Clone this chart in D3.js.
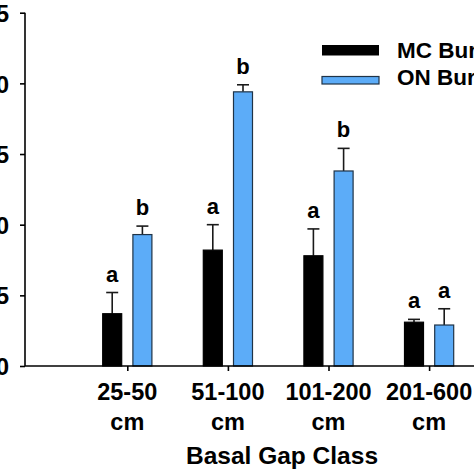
<!DOCTYPE html>
<html>
<head>
<meta charset="utf-8">
<script src="https://cdn.jsdelivr.net/npm/d3@7"></script>
<style>
  body { margin: 0; background: #fff; }
  svg { display: block; font-family: "Liberation Sans", Arial, sans-serif; font-weight: bold; }
</style>
</head>
<body>
<svg id="chart" width="474" height="474"></svg>
<script>
const classes = ["25-50", "51-100", "101-200", "201-600"];
const seriesNames = ["MC Burned", "ON Burned"];
const mcMean = [0.37, 0.82, 0.78, 0.31];
const mcErr = [0.15, 0.18, 0.19, 0.02];
const onMean = [0.93, 1.94, 1.38, 0.29];
const onErr = [0.06, 0.05, 0.16, 0.115];
const mcLetters = ["a", "a", "a", "a"];
const onLetters = ["b", "b", "b", "a"];
const yTicks = [0, 0.5, 1.0, 1.5, 2.0, 2.5];

const colors = ["#000000", "#5cacf8"];
const svg = d3.select("#chart");

const marginLeft = 25, marginTop = 12.7, bottom = 366;

const y = d3.scaleLinear().domain([0, 2.5]).range([bottom, marginTop]);
// categories sit at 1..4, origin at the y axis
const x = d3.scaleLinear().domain([0, 4.5]).range([26.7, 26.7 + 4.5 * 100.6]);

const barW = 19, gap = 5.6;

const data = classes.flatMap((c, i) => [
  { c, i, s: 0, v: mcMean[i], e: mcErr[i], l: mcLetters[i] },
  { c, i, s: 1, v: onMean[i], e: onErr[i], l: onLetters[i] }
]);
const bx = d => d.s === 0 ? x(d.i + 1) - gap - barW : x(d.i + 1) + gap;

// error bars
const eb = svg.append("g").attr("stroke", "#1a1a1a").attr("stroke-width", 1.6);
eb.selectAll("line.v").data(data).join("line")
  .attr("x1", d => bx(d) + barW / 2).attr("x2", d => bx(d) + barW / 2)
  .attr("y1", d => y(d.v)).attr("y2", d => y(d.v + d.e));
eb.selectAll("line.c").data(data).join("line")
  .attr("x1", d => bx(d) + barW / 2 - 6).attr("x2", d => bx(d) + barW / 2 + 6)
  .attr("y1", d => y(d.v + d.e)).attr("y2", d => y(d.v + d.e));

svg.append("g").selectAll("rect").data(data).join("rect")
  .attr("x", bx).attr("width", barW)
  .attr("y", d => y(d.v)).attr("height", d => y(0) - y(d.v))
  .attr("fill", d => colors[d.s])
  .attr("stroke", d => d.s === 0 ? "#000" : "#1f3347")
  .attr("stroke-width", 1.2);

svg.append("g").selectAll("text").data(data).join("text")
  .attr("x", d => bx(d) + barW / 2)
  .attr("y", d => y(d.v + d.e) - 11)
  .attr("text-anchor", "middle")
  .attr("font-size", 22)
  .text(d => d.l);

// y axis
const yAxis = svg.append("g").attr("transform", `translate(${marginLeft},0)`)
  .call(d3.axisLeft(y).tickValues(yTicks).tickFormat(d3.format(".1f")).tickSize(5).tickPadding(11));
yAxis.select(".domain").attr("stroke-width", 1.6).attr("d", `M0,${marginTop}V${bottom}`);
yAxis.selectAll(".tick line").attr("stroke-width", 1.6);
yAxis.selectAll(".tick text").attr("font-size", 24).attr("font-family", null).attr("font-weight", "bold").attr("dy", "0.36em");

// x axis
const xAxis = svg.append("g").attr("transform", `translate(0,${bottom})`)
  .call(d3.axisBottom(x).tickValues([1, 2, 3, 4]).tickFormat("").tickSize(5).tickSizeOuter(0));
xAxis.select(".domain").attr("stroke-width", 1.6).attr("d", `M${marginLeft},0H474`);
xAxis.selectAll(".tick line").attr("stroke-width", 1.6);

const xl = svg.append("g").selectAll("text").data(classes).join("text")
  .attr("x", (d, i) => x(i + 1))
  .attr("text-anchor", "middle")
  .attr("font-size", 23.5);
xl.append("tspan").attr("x", (d, i) => x(i + 1)).attr("y", 400).text(d => d);
xl.append("tspan").attr("x", (d, i) => x(i + 1)).attr("y", 430).text("cm");

svg.append("text").attr("x", 282).attr("y", 464).attr("text-anchor", "middle")
  .attr("font-size", 24.5).text("Basal Gap Class");

// legend
const lg = svg.append("g");
lg.append("rect").attr("x", 322).attr("y", 45).attr("width", 57).attr("height", 10.5)
  .attr("fill", colors[0]);
lg.append("rect").attr("x", 322).attr("y", 76.5).attr("width", 57).attr("height", 7.5)
  .attr("fill", colors[1]).attr("stroke", "#1f3347").attr("stroke-width", 1.2);
lg.selectAll("text").data(seriesNames).join("text")
  .attr("x", 397).attr("y", (d, i) => 57.5 + i * 27.5)
  .attr("font-size", 22.5).text(d => d);
</script>
</body>
</html>
